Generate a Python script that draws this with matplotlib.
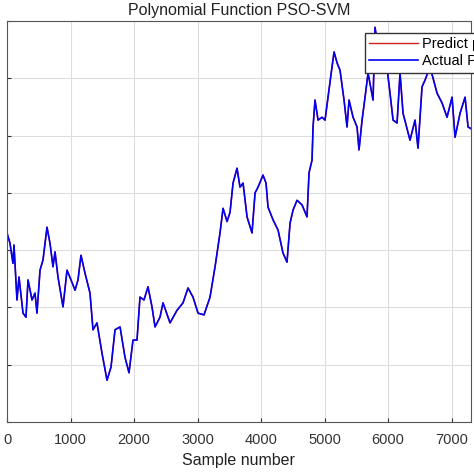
import matplotlib
matplotlib.use("Agg")
import matplotlib.pyplot as plt

samples = [0,47,94,110,157,189,252,299,331,394,441,472,520,567,630,677,724,756,803,882,945,1008,1071,1118,1165,1228,1307,1354,1417,1496,1575,1638,1701,1780,1858,1921,1984,2047,2094,2157,2220,2283,2331,2409,2457,2567,2677,2772,2850,2929,3008,3102,3197,3276,3354,3402,3465,3512,3559,3622,3669,3717,3780,3858,3906,3953,4031,4079,4110,4189,4268,4346,4409,4457,4504,4567,4646,4724,4756,4803,4819,4850,4898,4961,5008,5055,5118,5150,5197,5244,5307,5354,5386,5449,5512,5543,5591,5638,5685,5764,5795,5843,5906,5969,6031,6079,6142,6189,6236,6346,6425,6472,6535,6583,6661,6772,6850,6929,7008,7055,7134,7213,7260,7339]
actual = [3.30,3.12,2.77,3.09,2.13,2.53,1.90,1.83,2.48,2.13,2.25,1.90,2.65,2.83,3.40,3.12,2.71,2.97,2.53,2.01,2.65,2.48,2.30,2.48,2.91,2.60,2.25,1.61,1.73,1.20,0.73,0.96,1.61,1.66,1.13,0.86,1.43,1.43,2.18,2.13,2.36,2.01,1.66,1.83,2.08,1.73,1.95,2.08,2.34,2.18,1.90,1.87,2.18,2.71,3.30,3.73,3.50,3.66,4.17,4.43,4.10,4.17,3.58,3.30,4.00,4.10,4.31,4.17,3.75,3.53,3.35,2.95,2.79,3.47,3.70,3.87,3.79,3.58,4.35,4.57,5.15,5.62,5.27,5.32,5.27,5.67,6.20,6.46,6.27,6.14,5.62,5.15,5.62,5.32,5.15,4.75,5.27,5.67,6.09,5.62,6.89,6.54,6.14,6.32,5.74,5.27,5.22,6.09,5.39,4.92,5.27,4.78,5.85,5.97,6.20,5.74,5.57,5.32,5.67,4.97,5.39,5.67,5.15,5.10]
predict = list(actual)
xticks = [0,1000,2000,3000,4000,5000,6000,7000]

plt.rcParams['font.family'] = ['Liberation Sans', 'DejaVu Sans']
fig = plt.figure(figsize=(4.74, 4.74), dpi=100)
ax = fig.add_axes([7/474, 52/474, 463.6/474, 401/474])
ax.plot(samples, predict, color='#d62020', lw=1.0, label='Predict price')
ax.plot(samples, actual, color='#0000ee', lw=1.2, label='Actual Price')
ax.set_xlim(0, 7300)
ax.set_ylim(0, 7)
ax.set_xticks(xticks)
ax.set_xticklabels([str(t) for t in xticks], fontsize=10.5)
ax.set_yticks(range(8))
ax.set_yticklabels([])
ax.tick_params(direction='in', length=3, colors='#333333', pad=8)
ax.grid(True, color='#dddddd', lw=0.8)
ax.set_axisbelow(True)
for s in ax.spines.values():
    s.set_color('#555555')
ax.set_xlabel('Sample number', fontsize=11.5, color='#222222', labelpad=4)
ax.set_title('Polynomial Function PSO-SVM', fontsize=11.5, color='#222222', pad=4)
leg = ax.legend(loc='upper left', bbox_to_anchor=(358/463.6, 0.97), fontsize=10.5,
                fancybox=False, edgecolor='#333333', framealpha=1, borderaxespad=0,
                handlelength=3.3, handletextpad=0.3, borderpad=0.3, labelspacing=0.2)
fig.savefig('out.png', dpi=100)
